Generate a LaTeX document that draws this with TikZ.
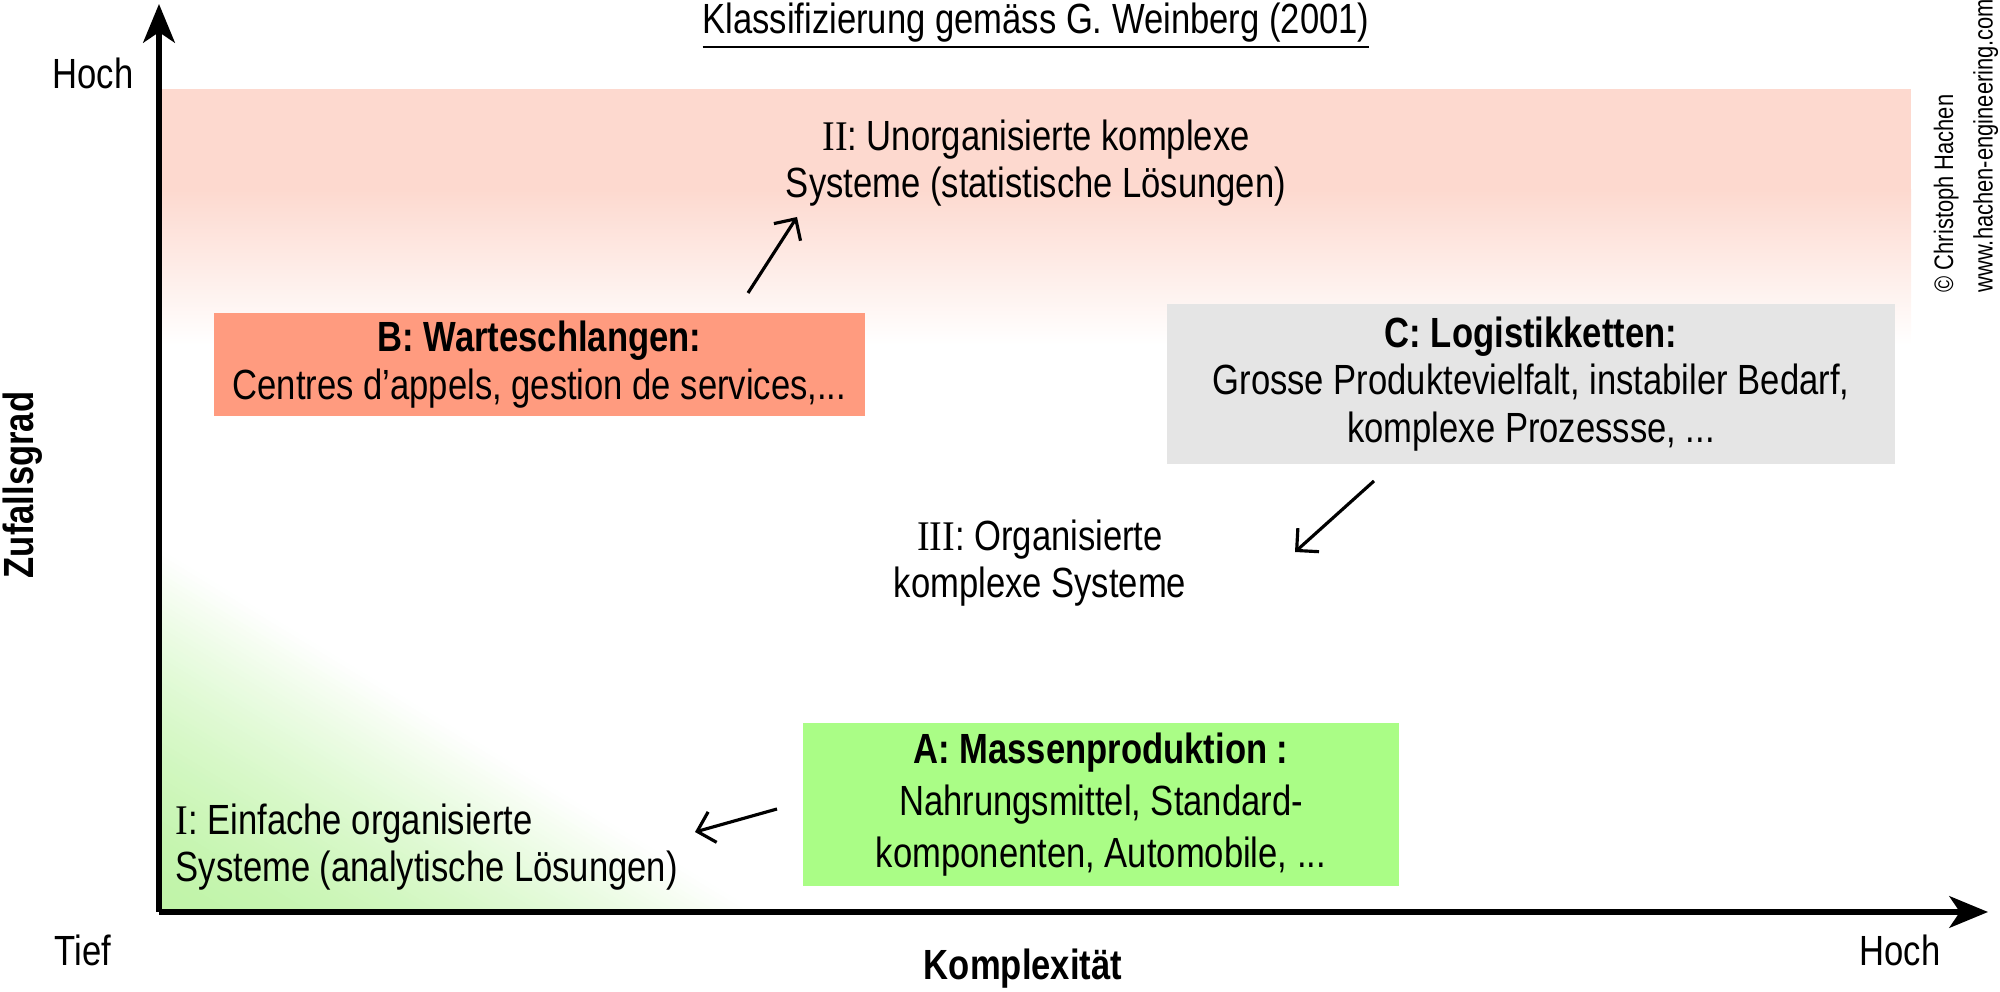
\documentclass[tikz,border=0pt]{standalone}
\usepackage{fontspec}
\setmainfont{Liberation Sans}[FakeStretch=0.82]
\newfontfamily\romfont{Liberation Serif}[FakeStretch=0.9]
\usetikzlibrary{arrows.meta}
\definecolor{bandpink}{RGB}{253,217,207}
\definecolor{boxB}{RGB}{255,155,127}
\definecolor{boxC}{RGB}{229,229,229}
\definecolor{boxA}{RGB}{170,253,134}
\definecolor{trigreen}{RGB}{192,244,168}
\tikzset{
  txt/.style={font=\fontsize{12}{13.5}\selectfont, align=center, inner sep=0pt},
  boldtxt/.style={font=\fontsize{12}{13.5}\selectfont\bfseries, inner sep=0pt},
  catbox/.style={font=\fontsize{12}{13.5}\selectfont, align=center, inner sep=0pt, anchor=center},
  axis/.style={line width=1.5pt, -{Stealth[length=11pt,width=9pt,inset=3pt]}},
  hint/.style={line width=0.9pt, -{Straight Barb[length=4.5pt,width=9pt]}}
}
\begin{document}
\begin{tikzpicture}[x=0.01cm, y=-0.01cm]
\useasboundingbox (0,0) rectangle (2000,992);
% pink band
\fill[bandpink] (160,89) rectangle (1911,190);
\shade[top color=bandpink, bottom color=white] (160,189.5) rectangle (1911,345);
% green triangle (fade from the corner to the hypotenuse)
\foreach \i in {60,59,...,1}{
  \pgfmathsetmacro{\f}{\i/60}
  \pgfmathsetmacro{\p}{100*(1-((\i-0.5)/60)^1.5)}
  \fill[trigreen!\p!white] (160,911) -- (160,{911-362*\f}) -- ({160+596*\f},911) -- cycle;
}
% boxes
\node[catbox, fill=boxB, minimum width=6.51cm, minimum height=1.03cm] (B) at (539.5,364.5)
  {{\bfseries B: Warteschlangen:}\\Centres d’appels, gestion de services,...};
\node[catbox, fill=boxC, minimum width=7.28cm, minimum height=1.59cm] (C) at (1531,384)
  {{\bfseries C: Logistikketten:}\\Grosse Produktevielfalt, instabiler Bedarf,\\komplexe Prozessse, ...};
\node[catbox, font=\fontsize{12}{14.8}\selectfont, fill=boxA, minimum width=5.96cm, minimum height=1.63cm] (A) at (1101,804.5)
  {{\bfseries A: Massenproduktion :}\\Nahrungsmittel, Standard-\\komponenten, Automobile, ...};
% region labels
\node[txt] (II) at (1036,163) {{\romfont II}: Unorganisierte komplexe\\Systeme (statistische Lösungen)};
\node[txt] (III) at (1040,563) {{\romfont III}: Organisierte\\komplexe Systeme};
\node[txt, align=left, anchor=west] (I) at (175,847) {{\romfont I}: Einfache organisierte\\Systeme (analytische Lösungen)};
% hint arrows
\coordinate (b1) at (748,293); \coordinate (b2) at (797,217);
\coordinate (c1) at (1374,481); \coordinate (c2) at (1295,552);
\coordinate (a1) at (777,809); \coordinate (a2) at (695,832);
\draw[hint] (b1) -- (b2);
\draw[hint] (c1) -- (c2);
\draw[hint] (a1) -- (a2);
% axes
\coordinate (O) at (159,912);
\coordinate (ytip) at (159,4);
\coordinate (xtip) at (1988,912);
\draw[axis] (O) -- (ytip);
\draw[axis] (O) -- (xtip);
% axis labels
\node[txt] (hochy) at (93,73) {Hoch};
\node[txt] (tief) at (83,950) {Tief};
\node[txt] (hochx) at (1900,950) {Hoch};
\node[boldtxt] (xlab) at (1023,969) {Komplexität};
\node[boldtxt, rotate=90] (ylab) at (23,485) {Zufallsgrad};
% title
\node[txt] (title) at (1036,26) {\underline{Klassifizierung gemäss G. Weinberg (2001)}};
% copyright
\node[font=\fontsize{7.6}{11.2}\selectfont, align=left, inner sep=0pt, rotate=90, anchor=west] (copy) at (1966,293)
  {© Christoph Hachen\\www.hachen-engineering.com};
\end{tikzpicture}
\end{document}
